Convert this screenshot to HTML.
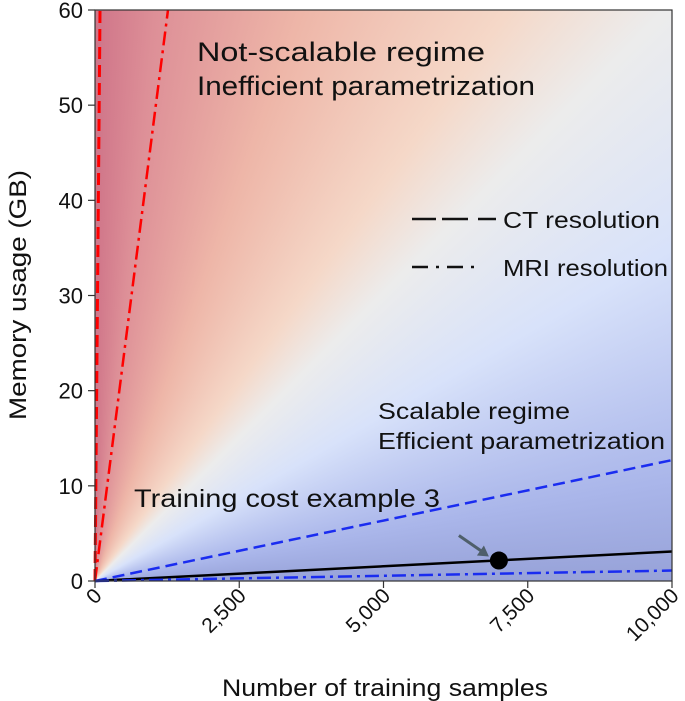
<!DOCTYPE html>
<html><head><meta charset="utf-8">
<style>
body{margin:0;background:#fff;width:685px;height:701px;overflow:hidden;font-family:"Liberation Sans",sans-serif;}
#bg{position:absolute;left:95px;top:10px;width:577px;height:571px;
background:conic-gradient(from 0deg at 0% 100%,#cf7589 0deg,#dd8f97 6deg,#eeb6a8 20deg,#f5d8c8 36deg,#ececec 45deg,#d8e2fa 60deg,#aab6ea 80deg,#97a2d8 90deg,#97a2d8 360deg);}
svg{position:absolute;left:0;top:0;}
text{font-family:"Liberation Sans",sans-serif;fill:#111;}
</style></head><body>
<div id="bg"></div>
<svg id="chart" width="685" height="701"></svg>
<script>
const xTicks=[0,2500,5000,7500,10000];
const xTickLabels=["0","2,500","5,000","7,500","10,000"];
const yTicks=[0,10,20,30,40,50,60];
const seriesNames=["ct-not-scalable","mri-not-scalable","ct-scalable","example-3","mri-scalable"];
const seriesEndX=[87,1265,10000,10000,10000];
const seriesEndY=[60,60,12.7,3.1,1.1];
const pointX=[7000];
const pointY=[2.15];
const X0=95,X1=672,Y0=581,Y1=10;
const sx=v=>X0+(v/10000)*(X1-X0);
const sy=v=>Y0-(v/60)*(Y0-Y1);
const svg=document.getElementById('chart');
const NS='http://www.w3.org/2000/svg';
function mk(t,a){const e=document.createElementNS(NS,t);for(const k in a)e.setAttribute(k,a[k]);svg.appendChild(e);return e;}
const styles=[{c:'#f00',d:'12 6',w:3},{c:'#f00',d:'14 5 3 5',w:2.5},{c:'#1a2cf0',d:'12 6',w:2.5},{c:'#000',d:'',w:2.5},{c:'#1a2cf0',d:'14 5 3 5',w:2.5}];
seriesNames.forEach((n,i)=>{
  const l=mk('line',{x1:sx(0),y1:sy(0),x2:sx(seriesEndX[i]),y2:sy(seriesEndY[i]),stroke:styles[i].c,'stroke-width':styles[i].w,'stroke-dasharray':styles[i].d});
  
  
});
pointX.forEach((v,i)=>{
  const c=mk('circle',{cx:sx(v),cy:sy(pointY[i]),r:9,fill:'#000'});
  
  
  const a=mk('line',{x1:sx(v)-40,y1:sy(pointY[i])-25,x2:sx(v)-14,y2:sy(pointY[i])-7,stroke:'#4f5f6b','stroke-width':3});
  
  
  const h=mk('polygon',{points:`${sx(v)-10},${sy(pointY[i])-4} ${sx(v)-22},${sy(pointY[i])-5} ${sx(v)-15},${sy(pointY[i])-15}`,fill:'#4f5f6b'});
  
  
});
const frame=mk('rect',{x:X0,y:Y1,width:X1-X0,height:Y0-Y1,fill:'none',stroke:'#333','stroke-width':1.2});


yTicks.forEach(v=>{
  const t=mk('line',{x1:X0-7,x2:X0,y1:sy(v),y2:sy(v),stroke:'#333','stroke-width':1.2});
  
  
  const tx=mk('text',{x:X0-12,y:sy(v)+8,'text-anchor':'end','font-size':22});
  tx.textContent=v;
  
  
});
xTicks.forEach((v,i)=>{
  const t=mk('line',{x1:sx(v),x2:sx(v),y1:Y0,y2:Y0+7,stroke:'#333','stroke-width':1.2});
  
  
  const tx=mk('text',{x:sx(v)+8,y:Y0+16,'text-anchor':'end','font-size':21,transform:`rotate(-45 ${sx(v)+8} ${Y0+16})`});
  tx.textContent=xTickLabels[i];
  
  
});
function txt(s,x,y,size,name,len,extra){const t=mk('text',Object.assign({x:x,y:y,'font-size':size,textLength:len,lengthAdjust:'spacingAndGlyphs'},extra||{}));t.textContent=s;return t;}
txt('Number of training samples',222,696,24,'x-axis-title',326);
txt('Memory usage (GB)',26,420,24,'y-axis-title',250,{transform:'rotate(-90 26 420)'});
txt('Not-scalable regime',197,61,27,'not-scalable-label',288);
txt('Inefficient parametrization',197,95,27,'inefficient-label',338);
txt('Scalable regime',378,419,23,'scalable-label',192);
txt('Efficient parametrization',378,449,23,'efficient-label',287);
txt('Training cost example 3',134,507,25,'example-3-label',306);
const l1=mk('line',{x1:412,x2:496,y1:219,y2:219,stroke:'#111','stroke-width':2.5,'stroke-dasharray':'24 6 26 10 20'});


const l2=mk('line',{x1:412,x2:484,y1:267,y2:267,stroke:'#111','stroke-width':2.5,'stroke-dasharray':'16 8 3 8 16 8 3'});


txt('CT resolution',503,228,23,'legend-ct-label',157);
txt('MRI resolution',503,276,23,'legend-mri-label',165);
</script>
</body></html>
